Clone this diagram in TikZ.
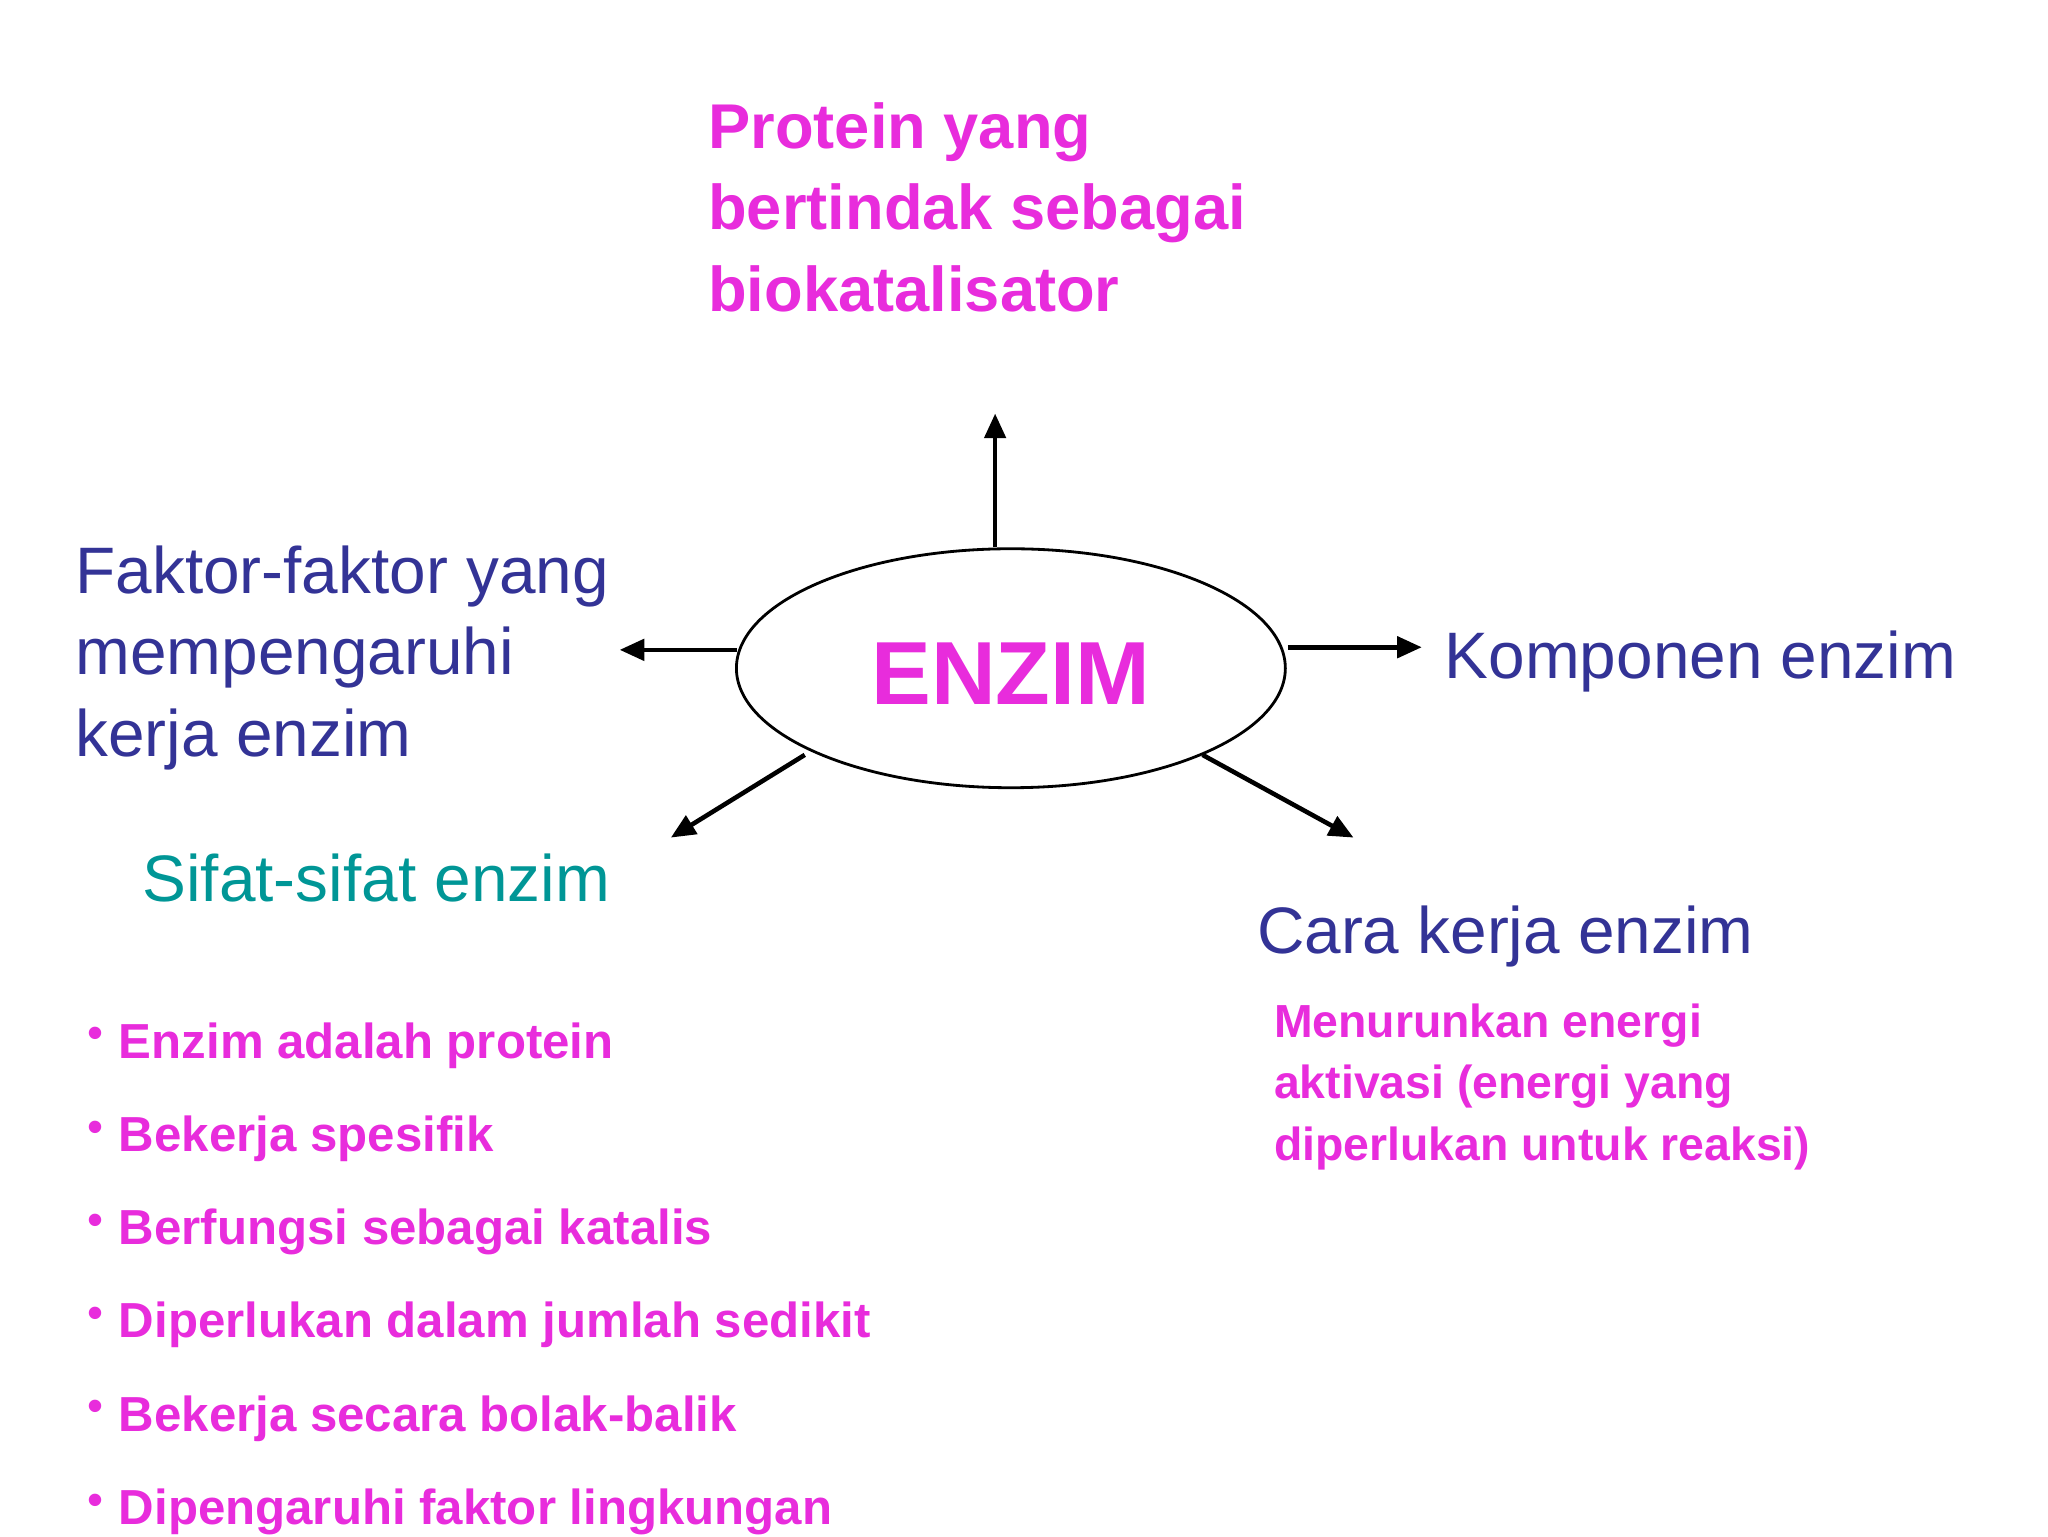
\documentclass[tikz,border=0pt]{standalone}
\usepackage{fontspec}
\setmainfont{Liberation Sans}
\usetikzlibrary{shapes.geometric,arrows.meta}
\definecolor{pinkc}{RGB}{232,44,220}
\definecolor{navy}{RGB}{51,51,150}
\definecolor{tealc}{RGB}{0,150,150}
\tikzset{
  ln/.style={anchor=base west,inner sep=0pt},
  big/.style={ln,font=\fontsize{18.7}{22}\selectfont},
  pk/.style={ln,text=pinkc,font=\bfseries\fontsize{18}{22}\selectfont},
  sm/.style={ln,text=pinkc,font=\bfseries\fontsize{14}{17}\selectfont},
  sm2/.style={ln,text=pinkc,font=\bfseries\fontsize{13.2}{16}\selectfont},
  arr/.style={-{Triangle[length=7pt,width=6pt]},line width=1.3pt}
}
\begin{document}
\begin{tikzpicture}[x=0.1313mm,y=-0.1313mm]
\useasboundingbox (0,0) rectangle (1560,1170);
\node[ellipse,draw,line width=0.8pt,minimum width=54.9mm,minimum height=23.9mm,inner sep=0pt] (e) at (770,509) {};
\node[text=pinkc,font=\bfseries\fontsize{25.5}{30}\selectfont,inner sep=0pt] (en) at (770,513) {ENZIM};
\node[pk] (p1) at (539,113) {Protein yang};
\node[pk] (p2) at (539,175) {bertindak sebagai};
\node[pk] (p3) at (539,237) {biokatalisator};
\node[big,text=navy] (f1) at (57,452) {Faktor-faktor yang};
\node[big,text=navy] (f2) at (57,514) {mempengaruhi};
\node[big,text=navy] (f3) at (57,576) {kerja enzim};
\node[big,text=navy] (k) at (1100,517) {Komponen enzim};
\node[big,text=tealc] (s) at (108,687) {Sifat-sifat enzim};
\node[big,text=navy] (c) at (957,726) {Cara kerja enzim};
\node[sm2] (m1) at (970,790) {Menurunkan energi};
\node[sm2] (m2) at (970,837) {aktivasi (energi yang};
\node[sm2] (m3) at (970,884) {diperlukan untuk reaksi)};
\foreach \t [count=\i] in {Enzim adalah protein,Bekerja spesifik,Berfungsi sebagai katalis,Diperlukan dalam jumlah sedikit,Bekerja secara bolak-balik,Dipengaruhi faktor lingkungan}{
  \node[sm] (b\i) at (90,{806+71*(\i-1)}) {\t};
  \node[ln,text=pinkc,font=\fontsize{13}{16}\selectfont] (d\i) at (66,{799+71*(\i-1)}) {•};
}
\coordinate (u0) at (758,417); \coordinate (u1) at (758,315);
\coordinate (r0) at (981,493); \coordinate (r1) at (1083,493);
\coordinate (l0) at (561,495); \coordinate (l1) at (472,495);
\coordinate (ll0) at (613,575); \coordinate (ll1) at (511,638);
\coordinate (lr0) at (916,575); \coordinate (lr1) at (1031,638);
\draw[arr] (u0) -- (u1);
\draw[arr] (r0) -- (r1);
\draw[arr] (l0) -- (l1);
\draw[arr] (ll0) -- (ll1);
\draw[arr] (lr0) -- (lr1);
\end{tikzpicture}
\end{document}
